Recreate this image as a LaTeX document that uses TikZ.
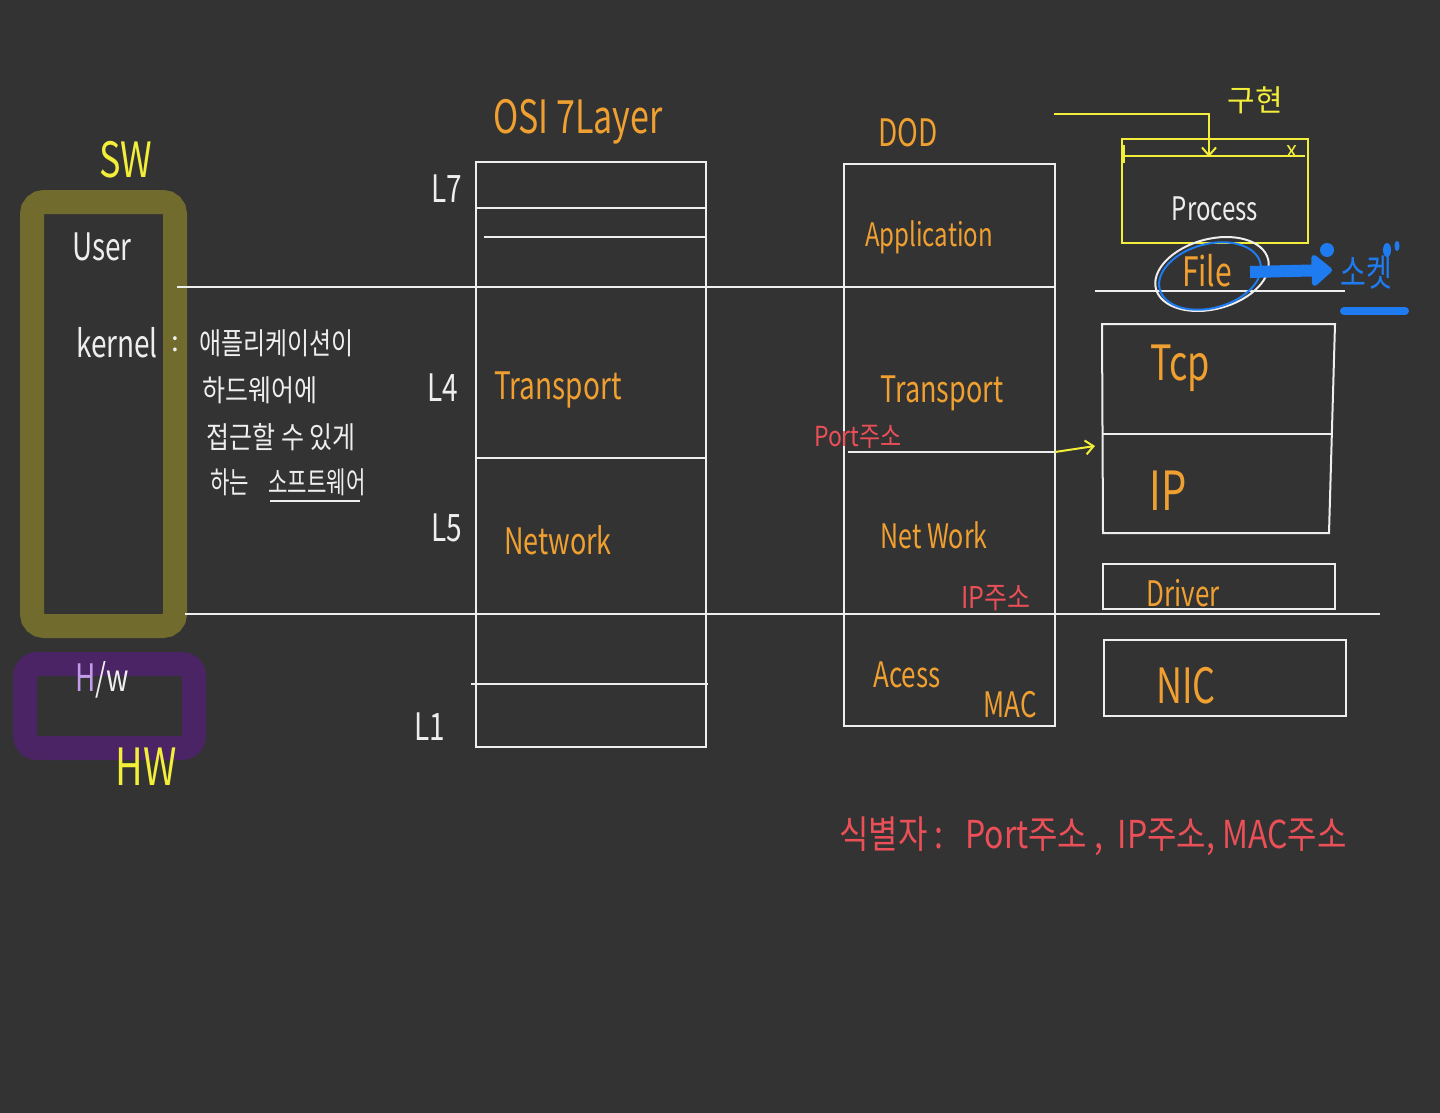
\documentclass[tikz,border=0pt]{standalone}
\usepackage{fontspec}
\setmainfont{Noto Sans CJK KR}
\usepackage{graphicx}
\usetikzlibrary{arrows.meta}
\definecolor{bg}{HTML}{333333}
\definecolor{chalk}{HTML}{EEEEEE}
\definecolor{org}{HTML}{F0A030}
\definecolor{rd}{HTML}{EB4F57}
\definecolor{ylw}{HTML}{F2EE3A}
\definecolor{blu}{HTML}{1F7CF0}
\definecolor{olv}{HTML}{716C2E}
\definecolor{prp}{HTML}{4B2466}
\definecolor{lav}{HTML}{C49BEA}
\newcommand\tallx[1]{\scalebox{1}[1.35]{#1}}
\begin{document}
\begin{tikzpicture}[x=0.5pt,y=-0.5pt,
  wline/.style={draw=chalk, line width=1pt},
  yline/.style={draw=ylw, line width=1pt},
  txt/.style={inner sep=0pt, font=\fontsize{#1}{#1}\selectfont},
  otxt/.style={txt=#1, text=org},
  rtxt/.style={txt=#1, text=rd},
  wtxt/.style={txt=#1, text=chalk},
  ktxt/.style={txt=#1, text=chalk, anchor=west}]
\fill[bg] (0,0) rectangle (1440,1113);
\useasboundingbox (0,0) rectangle (1440,1113);

% SW / HW frames
\draw[olv, line width=12pt, rounded corners=6pt] (32,202) rectangle (175,626);
\draw[prp, line width=12pt, rounded corners=6pt] (25,664) rectangle (194,748);
\node[txt=18, text=ylw] (sw) at (126,160) {\tallx{SW}};
\node[wtxt=14] (user) at (102,247) {\tallx{User}};
\node[wtxt=14] (kernel) at (117,343) {\tallx{kernel}};
\node[wtxt=14] (colon) at (175,344) {:};
\node[ktxt=12] (k1) at (199,343) {\scalebox{1}[1.25]{애플리케이션이}};
\node[ktxt=12.5] (k2) at (202,390) {\scalebox{1}[1.2]{하드웨어에}};
\node[ktxt=12.5] (k3) at (206,437) {\scalebox{1}[1.2]{접근할 수 있게}};
\node[ktxt=12] (k4a) at (210,482) {\scalebox{0.88}[1.25]{하는}};
\node[ktxt=12] (k4b) at (268,482) {\scalebox{0.88}[1.25]{소프트웨어}};
\draw[wline] (270,501) -- (360,501);
\node[inner sep=0pt, font=\fontsize{14}{14}\selectfont] (hw1) at (102,680) {\tallx{\textcolor{lav}{H}\textcolor{chalk}{/w}}};
\node[txt=19, text=ylw] (hw2) at (146,767) {\tallx{HW}};

% global dividers
\draw[wline] (177,287) -- (1055,287);
\draw[wline] (185,614) -- (1380,614);

% OSI
\node[otxt=17] (osi) at (578,122) {\tallx{OSI 7Layer}};
\draw[wline] (476,162) rectangle (706,747);
\draw[wline] (476,208) -- (706,208);
\draw[wline] (484,237) -- (706,237);
\draw[wline] (476,458) -- (706,458);
\draw[wline] (471,684) -- (708,684);
\node[wtxt=14] (l7) at (447,189) {\tallx{L7}};
\node[wtxt=14] (l4) at (443,388) {\tallx{L4}};
\node[wtxt=14] (l5) at (447,528) {\tallx{L5}};
\node[wtxt=14] (l1) at (430,727) {\tallx{L1}};
\node[otxt=14] (otr) at (558,390) {\tallx{Transport}};
\node[otxt=13.5] (onw) at (558,540) {\tallx{Network}};

% DOD
\node[otxt=14] (dod) at (908,133) {\tallx{DOD}};
\draw[wline] (844,164) rectangle (1055,726);
\coordinate (dl) at (848,452);
\coordinate (dr) at (1055,452);
\draw[wline] (dl) -- (dr);
\node[otxt=12] (app) at (929,237) {\tallx{Application}};
\node[otxt=13.5] (dtr) at (942,393) {\tallx{Transport}};
\node[otxt=12.5] (dnw) at (934,535) {\tallx{Net Work}};
\node[otxt=13] (acc) at (907,675) {\tallx{Acess}};
\node[otxt=13] (mac) at (1010,705) {\tallx{MAC}};
\node[rtxt=11.5] (port) at (858,437) {\scalebox{1}[1.2]{Port주소}};
\node[rtxt=12.5] (ipaddr) at (996,598) {\scalebox{1}[1.2]{IP주소}};

% right stack
\node[draw=ylw, line width=1pt, minimum width=93pt, minimum height=52pt, inner sep=0pt] (proc) at (1215,191) {};
\draw[yline] (1122,156) -- (1305,156);
\draw[yline] (1124,145) -- (1124,163);
\node[txt=11, text=ylw] (px) at (1292,152) {x};
\node[wtxt=12] (ptxt) at (1215,209) {\tallx{Process}};
\coordinate (imps) at (1054,114);
\coordinate (impe) at (1209,157);
\draw[yline, -{Straight Barb[length=4pt,width=7pt]}] (imps) -| (impe);
\node[txt=15, text=ylw] (impl) at (1255,100) {구현};

\draw[wline] (1095,291) -- (1345,291);
\draw[chalk, line width=1pt, shift={(1212,274)}, rotate=15] (0,0) ellipse [x radius=58, y radius=35];
\draw[blu, line width=1pt, shift={(1210,276)}, rotate=15] (0,0) ellipse [x radius=52, y radius=32];
\node[otxt=15] (file) at (1207,271) {\tallx{File}};
\coordinate (sa) at (1250,272);
\draw[blu, line width=6pt, -{Triangle[length=11pt,width=18pt,round]}] (sa) -- (1332,270);
\fill[blu] (1327,250) circle (7);
\fill[blu] (1387,250) ellipse [x radius=4, y radius=7];
\fill[blu] (1397,246) ellipse [x radius=2.5, y radius=5];
\node[txt=14, text=blu] (sock) at (1366,272) {\tallx{소켓}};
\draw[blu, line width=4pt, line cap=round] (1344,311) -- (1405,311);

\draw[wline] (1102,324) -- (1335,324) -- (1329,533) -- (1103,533) -- cycle;
\draw[wline] (1102,434) -- (1333,434);
\node[otxt=18] (tcp) at (1180,368) {\tallx{Tcp}};
\node[otxt=20] (ip) at (1168,491) {\tallx{IP}};
\coordinate (ipin) at (1095,446);
\draw[yline, -{Straight Barb[length=4pt,width=7pt]}] (dr) -- (ipin);
\node[draw=chalk, line width=1pt, minimum width=116pt, minimum height=22.5pt, inner sep=0pt] (drvbox) at (1219,586.5) {};
\node[otxt=13] (drv) at (1183,593) {\tallx{Driver}};
\node[draw=chalk, line width=1pt, minimum width=121pt, minimum height=38pt, inner sep=0pt] (nicbox) at (1225,678) {};
\node[otxt=18] (nic) at (1186,686) {\tallx{NIC}};

% bottom
\node[rtxt=16] (ident) at (1093,836) {\scalebox{1}[1.2]{식별자 :\ \ \ Port주소 ,\ \ IP주소, MAC주소}};
\end{tikzpicture}
\end{document}
